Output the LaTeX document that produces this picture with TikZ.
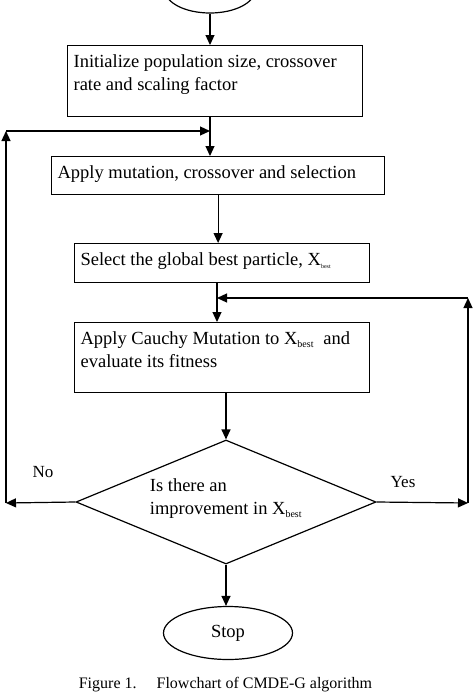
\documentclass[tikz,border=0pt]{standalone}
\usepackage{fontspec}
\setmainfont{Liberation Serif}
\usetikzlibrary{shapes.geometric,arrows.meta}
\newcommand\bt[3]{\parbox[c][#2][t]{#1}{\raggedright\rule{0pt}{22pt}#3}}
\newcommand\xbest{X\textsubscript{\fontsize{10}{10}\selectfont best}}
\begin{document}
\begin{tikzpicture}[x=1pt,y=-1pt,
  every node/.style={font=\fontsize{18.5}{23}\selectfont},
  line/.style={line width=1.2pt},
  arr/.style={line width=1.2pt,-{Triangle[length=10pt,width=9pt]}},
  procbox/.style={draw,line width=1.2pt,rectangle,anchor=north west,inner xsep=6pt,inner ysep=0pt},
  term/.style={draw,ellipse,line width=1.2pt,inner sep=0pt},
  lbl/.style={font=\fontsize{17}{20}\selectfont}]
\useasboundingbox (0,0) rectangle (474,694);
\clip (0,0) rectangle (474,694);
\node[term,minimum width=90pt,minimum height=46pt] (start) at (210,-10) {};
\node[procbox] (b1) at (67,45) {\bt{283pt}{71pt}{Initialize population size, crossover\\rate and scaling factor}};
\node[procbox] (b2) at (51,156) {\bt{321pt}{38pt}{Apply mutation, crossover and selection}};
\node[procbox] (b3) at (74,243) {\bt{283pt}{39pt}{Select the global best particle, X\textsubscript{\fontsize{6}{6}\selectfont best}}};
\node[procbox] (b4) at (74,322) {\bt{283pt}{70pt}{Apply Cauchy Mutation to \xbest\ \ and\\evaluate its fitness}};
\node[draw,diamond,line width=1.2pt,shape aspect=2.4,minimum width=300pt,minimum height=124pt,inner sep=0pt,align=left] (d) at (226,502) {Is there an\\improvement in \xbest\rule[-10pt]{0pt}{10pt}};
\node[term,minimum width=129pt,minimum height=53pt] (stop) at (228,633) {Stop};
\node[lbl] (no) at (43,472) {No};
\node[lbl] (yes) at (403,482) {Yes};
\node[font=\fontsize{16}{19}\selectfont] (cap) at (225.5,685) {Figure 1.\hspace{20pt}Flowchart of CMDE-G algorithm};
\coordinate (j1) at (210,131);
\coordinate (tl) at (6,131);
\coordinate (nl) at (6,503);
\coordinate (j2) at (217,298);
\coordinate (tr) at (468,298);
\coordinate (yr) at (468,503);
\draw[arr] (start.south) -- (start.south |- b1.north);
\draw[arr] (b1.south -| j1) -- (j1 |- b2.north);
\draw[arr] (b2.south) -- (b2.south |- b3.north);
\draw[arr] (b3.south -| j2) -- (j2 |- b4.north);
\draw[arr] (b4.south -| d.north) -- (d.north);
\draw[arr] (d.south) -- (d.south |- stop.north);
\draw[arr] (d.west) -- (nl);
\draw[arr] (nl) -- (tl);
\draw[arr] (tl) -- (j1);
\draw[arr] (d.east) -- (yr);
\draw[arr] (yr) -- (tr);
\draw[arr] (tr) -- (j2);
\end{tikzpicture}
\end{document}
